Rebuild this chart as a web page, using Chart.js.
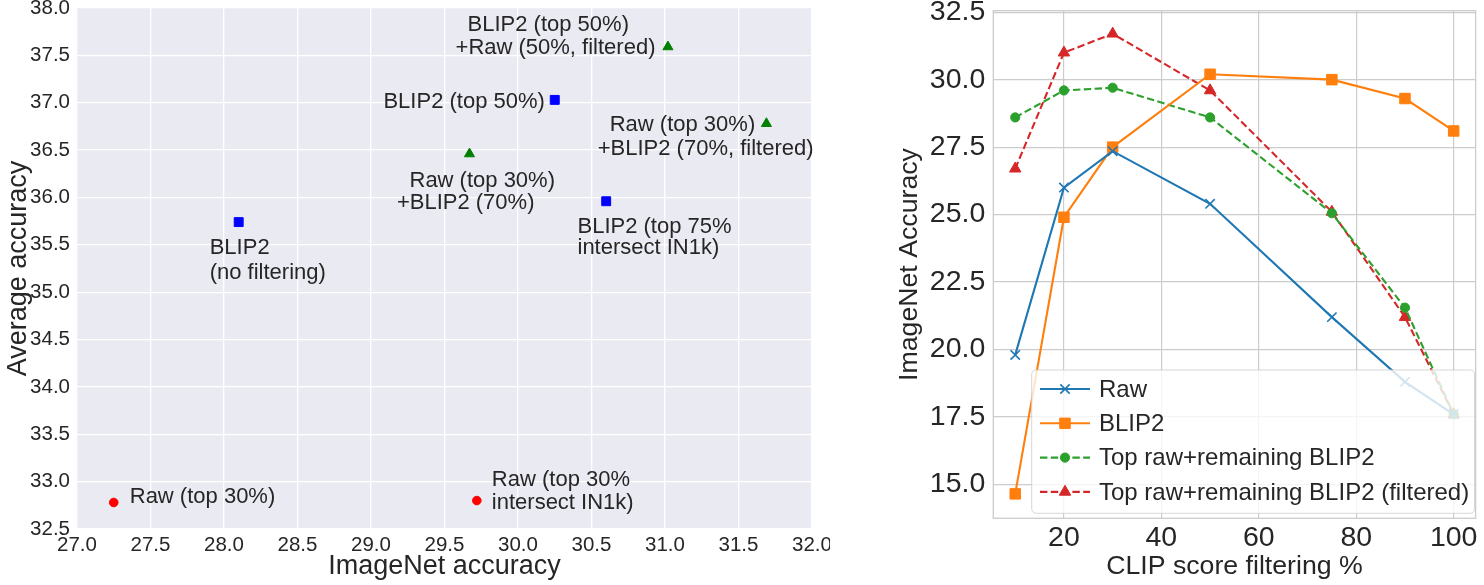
<!DOCTYPE html>
<html><head><meta charset="utf-8">
<script src="https://cdn.jsdelivr.net/npm/chart.js@4/dist/chart.umd.min.js"></script>
<style>
html,body{margin:0;padding:0;background:#fff;width:1484px;height:585px;overflow:hidden}
#l{position:absolute;left:0;top:0}
#r{position:absolute;left:880px;top:0}
</style></head><body>
<canvas id="l" width="830" height="585"></canvas>
<canvas id="r" width="604" height="585"></canvas>
<script>
const FONT = "'Liberation Sans', Arial, Helvetica, sans-serif";
const TEXT = '#262626';

// ---------- Left chart data (ImageNet accuracy vs Average accuracy) ----------
const rawNames = ["Raw (top 30%)", "Raw (top 30%\nintersect IN1k)"];
const rawX = [27.25, 29.72];
const rawY = [32.78, 32.80];
const blipNames = ["BLIP2\n(no filtering)", "BLIP2 (top 50%)", "BLIP2 (top 75%\nintersect IN1k)"];
const blipX = [28.10, 30.25, 30.60];
const blipY = [35.74, 37.03, 35.96];
const mixNames = ["BLIP2 (top 50%)\n+Raw (50%, filtered)", "Raw (top 30%)\n+BLIP2 (70%, filtered)", "Raw (top 30%)\n+BLIP2 (70%)"];
const mixX = [31.02, 31.69, 29.67];
const mixY = [37.59, 36.78, 36.46];

// ---------- Right chart data (CLIP score filtering %) ----------
const filterPct = [10, 20, 30, 50, 75, 90, 100];
const rawAcc = [19.8, 26.0, 27.35, 25.4, 21.2, 18.8, 17.6];
const blip2Acc = [14.65, 24.9, 27.5, 30.2, 30.0, 29.3, 28.1];
const topRawAcc = [28.6, 29.6, 29.7, 28.6, 25.05, 21.55, 17.6];
const topRawFiltAcc = [26.7, 31.0, 31.7, 29.6, 25.1, 21.2, 17.6];
const seriesNames = ["Raw", "BLIP2", "Top raw+remaining BLIP2", "Top raw+remaining BLIP2 (filtered)"];

const pts = (xs, ys) => xs.map((x, i) => ({x, y: ys[i]}));

// annotation placement (pixel offsets of each text line from its marker)
const annotLayout = [
  [ [[16,-6]], [[15,-21],[15,2.5]] ],
  [ [[-29,26.3],[-29,51]], [[-171.3,2.4]], [[-28.7,25.4],[-28.7,47]] ],
  [ [[-200.4,-21.7],[-212.4,1]], [[-156.7,1.7],[-168.7,25]], [[-60,26.7],[-72.6,48.7]] ]
];

const noPad = s => { s.paddingTop = 0; s.paddingBottom = 0; s.paddingLeft = 0; s.paddingRight = 0; };

const leftPlugin = {
  id: 'leftDeco',
  beforeDraw(chart) {
    const {ctx, chartArea: a} = chart;
    ctx.save();
    ctx.fillStyle = '#eaeaf2';
    ctx.fillRect(a.left, a.top, a.right - a.left, a.bottom - a.top);
    ctx.restore();
  },
  afterDatasetsDraw(chart) {
    const ctx = chart.ctx;
    ctx.save();
    ctx.font = `22px ${FONT}`;
    ctx.fillStyle = TEXT;
    ctx.textBaseline = 'middle';
    ctx.textAlign = 'left';
    chart.data.datasets.forEach((ds, di) => {
      const meta = chart.getDatasetMeta(di);
      meta.data.forEach((el, i) => {
        const lines = ds.names[i].split('\n');
        lines.forEach((ln, k) => {
          const off = annotLayout[di][i][k];
          ctx.fillText(ln, el.x + off[0], el.y + off[1]);
        });
      });
    });
    ctx.restore();
  }
};

new Chart(document.getElementById('l'), {
  type: 'scatter',
  data: {
    datasets: [
      {label: 'Raw', names: rawNames, data: pts(rawX, rawY), pointStyle: 'circle', pointRadius: 4.3,
       backgroundColor: '#ff0000', borderColor: '#ff0000', pointBorderWidth: 1},
      {label: 'BLIP2', names: blipNames, data: pts(blipX, blipY), pointStyle: 'rect', pointRadius: 6.3,
       backgroundColor: '#0000ff', borderColor: '#0000ff', pointBorderWidth: 1},
      {label: 'Mixed', names: mixNames, data: pts(mixX, mixY), pointStyle: 'triangle', pointRadius: 5.8,
       backgroundColor: '#008000', borderColor: '#008000', pointBorderWidth: 1}
    ]
  },
  options: {
    responsive: false, animation: false,
    layout: {padding: {left: 0, top: 8, right: 18, bottom: 0}},
    plugins: {legend: {display: false}, tooltip: {enabled: false}},
    scales: {
      x: {
        type: 'linear', min: 27, max: 32,
        afterFit: s => { s.height = 56; noPad(s); },
        ticks: {stepSize: 0.5, padding: 4, color: TEXT, maxRotation: 0, autoSkip: false,
                font: {family: FONT, size: 20.5, lineHeight: 1.2}, callback: v => v.toFixed(1)},
        grid: {color: '#ffffff', lineWidth: 1.3, drawTicks: false},
        border: {display: false},
        title: {display: true, text: 'ImageNet accuracy', color: TEXT,
                font: {family: FONT, size: 27, lineHeight: 1.2}, padding: {top: 0, bottom: 2}}
      },
      y: {
        type: 'linear', min: 32.5, max: 38,
        afterFit: s => { s.width = 77; noPad(s); },
        ticks: {stepSize: 0.5, padding: 7, color: TEXT, autoSkip: false,
                font: {family: FONT, size: 20.5, lineHeight: 1.2}, callback: v => v.toFixed(1)},
        grid: {color: '#ffffff', lineWidth: 1.3, drawTicks: false},
        border: {display: false},
        title: {display: true, text: 'Average accuracy', color: TEXT,
                font: {family: FONT, size: 27, lineHeight: 1.2}, padding: {top: 2, bottom: 0}}
      }
    }
  },
  plugins: [leftPlugin]
});

// ---------- Right chart ----------
const rightPlugin = {
  id: 'rightDeco',
  beforeDatasetsDraw(chart) {
    const {ctx, chartArea: a} = chart;
    ctx.save();
    ctx.strokeStyle = '#cccccc';
    ctx.lineWidth = 1.3;
    ctx.strokeRect(a.left, a.top, a.right - a.left, a.bottom - a.top);
    ctx.restore();
  },
  afterDatasetsDraw(chart) {
    const {ctx, chartArea: a} = chart;
    const dss = chart.data.datasets;
    ctx.save();
    ctx.font = `24px ${FONT}`;
    const maxW = Math.max(...dss.map(d => ctx.measureText(d.label).width));
    const left = a.left + 38.4;
    const bottom = a.bottom - 5;
    const top = bottom - 143.3;
    const textX = left + 67.3;
    const right = Math.min(textX + maxW + 9, a.right - 1);
    const r = 5;
    ctx.beginPath();
    ctx.moveTo(left + r, top);
    ctx.lineTo(right - r, top); ctx.quadraticCurveTo(right, top, right, top + r);
    ctx.lineTo(right, bottom - r); ctx.quadraticCurveTo(right, bottom, right - r, bottom);
    ctx.lineTo(left + r, bottom); ctx.quadraticCurveTo(left, bottom, left, bottom - r);
    ctx.lineTo(left, top + r); ctx.quadraticCurveTo(left, top, left + r, top);
    ctx.closePath();
    ctx.fillStyle = 'rgba(255,255,255,0.8)';
    ctx.fill();
    ctx.strokeStyle = 'rgba(204,204,204,0.8)';
    ctx.lineWidth = 1;
    ctx.stroke();
    dss.forEach((d, i) => {
      const y = top + 19 + i * 34.3;
      ctx.save();
      ctx.strokeStyle = d.borderColor;
      ctx.lineWidth = d.borderWidth;
      ctx.setLineDash(d.borderDash || []);
      ctx.beginPath();
      ctx.moveTo(left + 8.3, y); ctx.lineTo(left + 58.3, y);
      ctx.stroke();
      ctx.setLineDash([]);
      ctx.fillStyle = d.pointBackgroundColor;
      ctx.strokeStyle = d.pointBorderColor;
      ctx.lineWidth = d.pointBorderWidth;
      Chart.helpers.drawPoint(ctx, {pointStyle: d.pointStyle, radius: d.pointRadius,
        borderWidth: d.pointBorderWidth, rotation: 0}, left + 33.3, y);
      ctx.restore();
      ctx.fillStyle = TEXT;
      ctx.textBaseline = 'middle';
      ctx.textAlign = 'left';
      ctx.fillText(d.label, textX, y + 1);
    });
    ctx.restore();
  }
};

const mk = (label, ys, color, style, radius, dashed, bw) => ({
  label, data: pts(filterPct, ys), borderColor: color, backgroundColor: color,
  pointBackgroundColor: color, pointBorderColor: color, pointBorderWidth: bw,
  pointStyle: style, pointRadius: radius, borderWidth: 2.1,
  borderDash: dashed ? [7.4, 3.4] : [], fill: false, tension: 0
});

new Chart(document.getElementById('r'), {
  type: 'line',
  data: {
    datasets: [
      mk(seriesNames[0], rawAcc, '#1f77b4', 'crossRot', 6.6, false, 1.6),
      mk(seriesNames[1], blip2Acc, '#ff7f0e', 'rect', 7.4, false, 1),
      mk(seriesNames[2], topRawAcc, '#2ca02c', 'circle', 4.6, true, 1),
      mk(seriesNames[3], topRawFiltAcc, '#d62728', 'triangle', 6.6, true, 1)
    ]
  },
  options: {
    responsive: false, animation: false,
    layout: {padding: {left: 0, top: 10.7, right: 4.7, bottom: 0}},
    plugins: {legend: {display: false}, tooltip: {enabled: false}},
    scales: {
      x: {
        type: 'linear', min: 5.5, max: 104.5,
        afterFit: s => { s.height = 66.7; noPad(s); },
        afterBuildTicks: s => { s.ticks = s.ticks.filter(t => Math.abs(t.value / 20 - Math.round(t.value / 20)) < 1e-6); },
        ticks: {stepSize: 20, includeBounds: false, padding: 3, color: TEXT, maxRotation: 0, autoSkip: false,
                font: {family: FONT, size: 28.5, lineHeight: 1.2}, callback: v => String(v)},
        grid: {color: '#cccccc', lineWidth: 1.2, drawTicks: false},
        border: {display: false},
        title: {display: true, text: 'CLIP score filtering %', color: TEXT,
                font: {family: FONT, size: 26.7, lineHeight: 1.2}, padding: {top: 0, bottom: 2.4}}
      },
      y: {
        type: 'linear', min: 13.745, max: 32.555,
        afterFit: s => { s.width = 113.3; noPad(s); },
        afterBuildTicks: s => { s.ticks = s.ticks.filter(t => Math.abs(t.value / 2.5 - Math.round(t.value / 2.5)) < 1e-6); },
        ticks: {stepSize: 2.5, includeBounds: false, padding: 8, color: TEXT, autoSkip: false,
                font: {family: FONT, size: 28.5, lineHeight: 1.2}, callback: v => v.toFixed(1)},
        grid: {color: '#cccccc', lineWidth: 1.2, drawTicks: false},
        border: {display: false},
        title: {display: true, text: 'ImageNet Accuracy', color: TEXT,
                font: {family: FONT, size: 26.7, lineHeight: 1.2}, padding: {top: 14, bottom: 0}}
      }
    }
  },
  plugins: [rightPlugin]
});
</script>
</body></html>
